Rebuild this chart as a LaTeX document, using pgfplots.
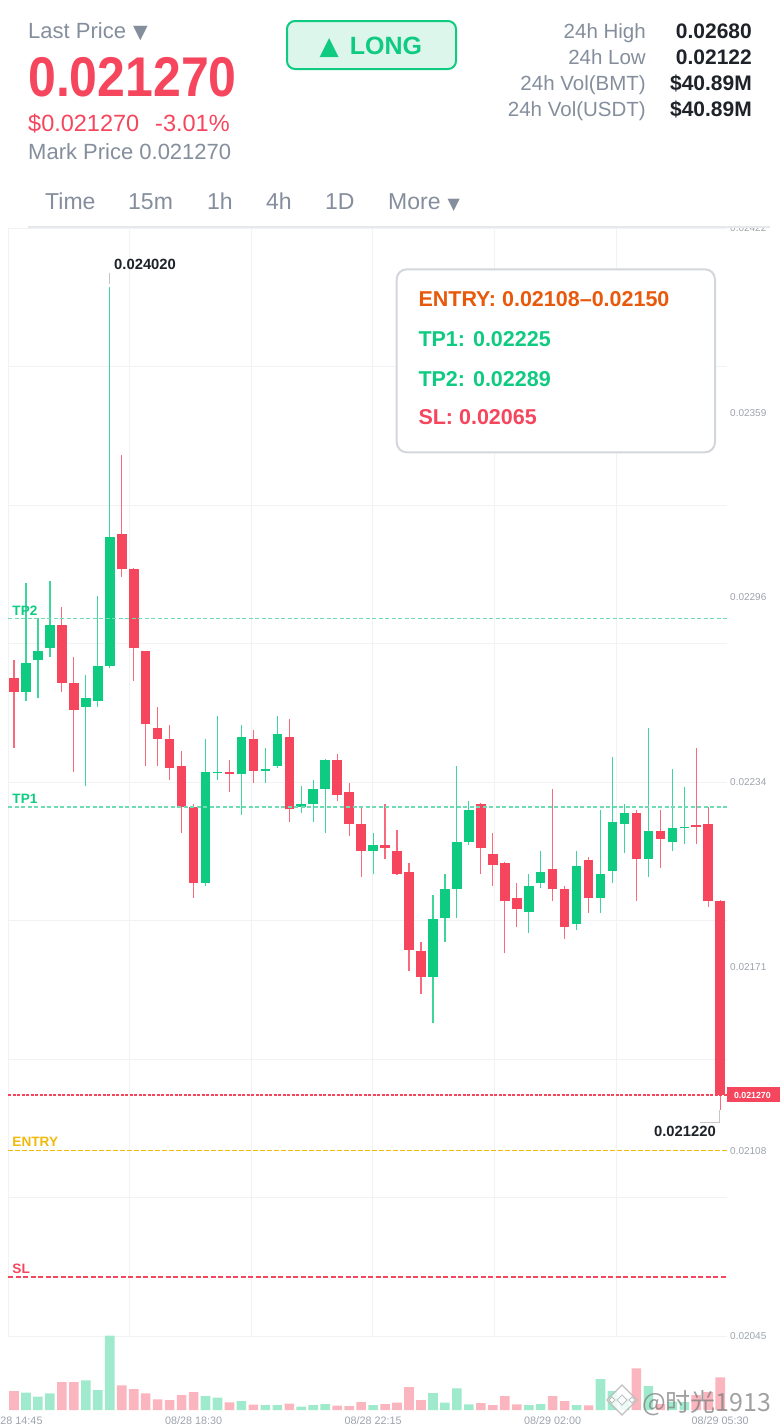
\documentclass[border=0pt]{standalone}
\usepackage{pgfplots}
\pgfplotsset{compat=1.18}
\usepackage{pgfplotstable}
\usepackage{graphicx}
\usepackage{fontspec}
\setmainfont{Liberation Sans}
\newfontfamily\dejavu{DejaVu Sans}
\newfontfamily\cjk{Noto Sans CJK SC}
\newcommand{\fs}[1]{\fontsize{#1}{#1}\selectfont}

\definecolor{bgreen}{HTML}{0ECB81}
\definecolor{bred}{HTML}{F6465D}
\definecolor{slred}{RGB}{246,70,93}
\definecolor{byellow}{HTML}{F0B90B}
\definecolor{borange}{HTML}{E8590C}
\definecolor{tgrey}{HTML}{848E9C}
\definecolor{tdark}{HTML}{1E2329}
\definecolor{gridc}{HTML}{F1F2F4}
\definecolor{axgrey}{HTML}{9DA3AB}
\definecolor{sepc}{HTML}{E6E8EB}
\definecolor{boxc}{HTML}{D3D6DA}
\definecolor{longbg}{HTML}{DDF6EC}
\definecolor{volg}{HTML}{9FEACD}
\definecolor{volr}{HTML}{FBB5BE}
\definecolor{tpline}{HTML}{6EDDB3}

% i open high low close volume
\pgfplotstableread{
i o h l c v
1 0.022640 0.023012 0.022611 0.022739 17.3
2 0.022750 0.022892 0.022622 0.022780 13.3
3 0.022790 0.023020 0.022761 0.022869 16.7
6 0.022591 0.022699 0.022321 0.022620 29.7
7 0.022611 0.022969 0.022591 0.022730 20
8 0.022730 0.024020 0.022722 0.023170 74.3
16 0.021992 0.022480 0.021981 0.022369 14
17 0.022365 0.022560 0.022342 0.022370 12.3
19 0.022361 0.022529 0.022222 0.022489 9
21 0.022372 0.022450 0.022331 0.022379 5
22 0.022390 0.022560 0.022382 0.022499 5
24 0.022251 0.022321 0.022231 0.022260 3.3
25 0.022260 0.022341 0.022200 0.022310 5
26 0.022311 0.022412 0.022163 0.022410 6
30 0.022101 0.022160 0.022022 0.022120 5
35 0.021673 0.021951 0.021514 0.021870 17
36 0.021871 0.022021 0.021792 0.021970 7.3
37 0.021972 0.022390 0.021871 0.022130 21.7
38 0.022132 0.022270 0.022121 0.022240 5.7
43 0.021892 0.022021 0.021822 0.021981 5
44 0.021992 0.022100 0.021973 0.022030 6
47 0.021852 0.022100 0.021831 0.022050 5
49 0.021941 0.022240 0.021890 0.022021 31
50 0.022032 0.022419 0.021990 0.022200 19
51 0.022191 0.022259 0.022092 0.022229 12
53 0.022072 0.022520 0.022013 0.022169 24
55 0.022132 0.022379 0.022101 0.022180 8.3
56 0.022177 0.022319 0.022123 0.022182 8
}\greentab

\pgfplotstableread{
i o h l c v
0 0.022690 0.022750 0.022452 0.022640 19
4 0.022869 0.022931 0.022640 0.022671 28
5 0.022671 0.022761 0.022370 0.022580 28
9 0.023179 0.023448 0.023032 0.023060 24.7
10 0.023060 0.023063 0.022680 0.022790 21
11 0.022780 0.022782 0.022390 0.022531 16.7
12 0.022520 0.022590 0.022390 0.022480 10.7
13 0.022480 0.022529 0.022342 0.022382 10
14 0.022389 0.022440 0.022163 0.022251 15
15 0.022251 0.022259 0.021941 0.021992 18
18 0.022369 0.022410 0.022302 0.022361 7.7
20 0.022480 0.022511 0.022331 0.022372 5.3
23 0.022489 0.022549 0.022200 0.022242 6.3
27 0.022410 0.022429 0.022271 0.022291 4.3
28 0.022300 0.022331 0.022151 0.022191 4
29 0.022191 0.022251 0.022012 0.022101 8
31 0.022120 0.022260 0.022072 0.022111 6
32 0.022100 0.022172 0.022018 0.022021 7.3
33 0.022030 0.022060 0.021693 0.021763 23
34 0.021761 0.021791 0.021613 0.021673 10
39 0.022259 0.022265 0.022021 0.022111 7
40 0.022089 0.022160 0.021982 0.022052 5
41 0.022060 0.022062 0.021752 0.021931 14
42 0.021939 0.021990 0.021843 0.021903 5.7
45 0.022039 0.022311 0.021931 0.021971 14
46 0.021971 0.021982 0.021802 0.021841 9
48 0.022070 0.022081 0.021890 0.021941 4.7
52 0.022229 0.022240 0.021931 0.022072 41.7
54 0.022169 0.022240 0.022041 0.022142 6
57 0.022189 0.022450 0.022123 0.022181 15
58 0.022191 0.022251 0.021911 0.021931 18
59 0.021931 0.021935 0.021220 0.021270 32.7
}\redtab

\begin{document}
\begin{tikzpicture}
\path[use as bounding box] (0pt,0pt) rectangle (780pt,-1428pt);

% ---------------- price pane ----------------
\begin{axis}[
  at={(8pt,-1336pt)}, anchor=south west, scale only axis,
  width=719pt, height=1108pt,
  xmin=-0.5013, xmax=59.566, ymin=0.02045, ymax=0.02422,
  axis line style={draw=none},
  major tick length=0pt,
  xtick={-0.5013,9.632,19.808,29.984,40.159,50.334}, xticklabels={},
  xmajorgrids=true,
  ytick={0.02422,0.023592,0.022963,0.022335,0.021707,0.021078,0.02045},
  yticklabels={0.02422,0.02359,0.02296,0.02234,0.02171,0.02108,0.02045},
  yticklabel pos=right,
  yticklabel style={anchor=west, inner sep=0pt, xshift=3pt, font=\fs{10}, text=axgrey},
  extra y ticks={0.02422,0.023749,0.023277,0.022806,0.022335,0.021864,0.021392,0.020921,0.02045},
  extra y tick labels={},
  extra y tick style={ymajorgrids=true},
  grid style={draw=gridc, line width=1pt},
]
% wicks
\addplot[draw=none, mark=none, error bars/.cd, y dir=plus, y explicit, error mark=none,
  error bar style={draw=bgreen, draw opacity=0.8, line width=1.2pt, solid}]
  table[x=i, y=l, y error plus expr=\thisrow{h}-\thisrow{l}] {\greentab};
\addplot[draw=none, mark=none, error bars/.cd, y dir=plus, y explicit, error mark=none,
  error bar style={draw=bred, draw opacity=0.8, line width=1.2pt, solid}]
  table[x=i, y=l, y error plus expr=\thisrow{h}-\thisrow{l}] {\redtab};
% bodies
\addplot[draw=none, mark=none, error bars/.cd, y dir=plus, y explicit, error mark=none,
  error bar style={draw=bgreen, line width=9.6pt, solid}]
  table[x=i, y expr={min(\thisrow{o},\thisrow{c})}, y error plus expr={abs(\thisrow{c}-\thisrow{o})}] {\greentab};
\addplot[draw=none, mark=none, error bars/.cd, y dir=plus, y explicit, error mark=none,
  error bar style={draw=bred, line width=9.6pt, solid}]
  table[x=i, y expr={min(\thisrow{o},\thisrow{c})}, y error plus expr={abs(\thisrow{c}-\thisrow{o})}] {\redtab};
% level lines
\addplot[color=tpline, mark=none, line width=1.1pt, dash pattern=on 4pt off 2.5pt] coordinates {(-0.5013,0.02289) (59.566,0.02289)};
\addplot[color=tpline, mark=none, line width=1.1pt, dash pattern=on 4pt off 2.5pt] coordinates {(-0.5013,0.02225) (59.566,0.02225)};
\addplot[color=byellow, mark=none, line width=1.1pt, dash pattern=on 4.5pt off 2.5pt] coordinates {(-0.5013,0.02108) (59.566,0.02108)};
\addplot[color=slred, mark=none, line width=1.6pt, dash pattern=on 5pt off 2.5pt] coordinates {(-0.5013,0.02065) (59.566,0.02065)};
\addplot[color=slred, mark=none, line width=1.4pt, dash pattern=on 3pt off 1.5pt] coordinates {(-0.5013,0.02127) (59.566,0.02127)};
% high / low markers
\addplot[color=gray!45, mark=none, line width=1pt] coordinates {(8,0.024067) (8,0.024029)};
\addplot[color=gray!45, mark=none, line width=1pt] coordinates {(58.92,0.021219) (58.92,0.021176) (57.31,0.021176)};
\end{axis}

% ---------------- volume pane ----------------
\begin{axis}[
  at={(8pt,-1410pt)}, anchor=south west, scale only axis,
  width=719pt, height=74.3pt,
  xmin=-0.5013, xmax=59.566, ymin=0, ymax=74.3,
  axis line style={draw=none}, major tick length=0pt,
  ytick=\empty,
  xtick={0,15,30,45,59},
  xticklabels={08/28 14:45,08/28 18:30,08/28 22:15,08/29 02:00,08/29 05:30},
  xticklabel style={anchor=center, inner sep=0pt, yshift=-11pt, font=\fs{10.8}, text=axgrey},
]
\addplot[ybar, bar width=9.6pt, bar shift=0pt, fill=volg, draw=none] table[x=i, y=v] {\greentab};
\addplot[ybar, bar width=9.6pt, bar shift=0pt, fill=volr, draw=none] table[x=i, y=v] {\redtab};
\end{axis}

% ---------------- overlays ----------------
\begin{scope}[x=1pt,y=-1pt]
\fill[white] (0,0) rectangle (780,226);
\draw[sepc, line width=2pt] (28,227) -- (770,227);

% header left
\node[anchor=base west, inner sep=0pt, text=tgrey] at (28,38.5) {\fs{22}Last Price\hspace{7pt}{\dejavu\fs{19}▼}};
\node[anchor=base west, inner sep=0pt, text=bred] at (28,96.7) {\scalebox{1}[1.12]{\fs{50}\bfseries 0.021270}};
\node[anchor=base west, inner sep=0pt, text=bred] at (28,131.7) {\fs{23.5}\$0.021270\hspace{16pt}-3.01\%};
\node[anchor=base west, inner sep=0pt, text=tgrey] at (28,159.3) {\fs{22}Mark Price 0.021270};

% LONG button
\draw[rounded corners=8pt, fill=longbg, draw=bgreen, line width=2pt] (287,21) rectangle (456,69);
\node[anchor=base west, inner sep=0pt, text=bgreen] at (319.5,54) {{\dejavu\fs{25}▲}\hspace{11pt}{\fs{25}\bfseries LONG}};

% header right
\node[anchor=base east, inner sep=0pt, text=tgrey] at (646,38.5) {\fs{20.5}24h High};
\node[anchor=base east, inner sep=0pt, text=tgrey] at (646,64) {\fs{20.5}24h Low};
\node[anchor=base east, inner sep=0pt, text=tgrey] at (646,90.5) {\fs{20.5}24h Vol(BMT)};
\node[anchor=base east, inner sep=0pt, text=tgrey] at (646,116.5) {\fs{20.5}24h Vol(USDT)};
\node[anchor=base east, inner sep=0pt, text=tdark] at (752,38.5) {\fs{21}\bfseries 0.02680};
\node[anchor=base east, inner sep=0pt, text=tdark] at (752,64) {\fs{21}\bfseries 0.02122};
\node[anchor=base east, inner sep=0pt, text=tdark] at (752,90.5) {\fs{21}\bfseries \$40.89M};
\node[anchor=base east, inner sep=0pt, text=tdark] at (752,116.5) {\fs{21}\bfseries \$40.89M};

% tabs
\node[anchor=base west, inner sep=0pt, text=tgrey] at (45,209.5) {\fs{23}Time};
\node[anchor=base west, inner sep=0pt, text=tgrey] at (128,209.5) {\fs{23}15m};
\node[anchor=base west, inner sep=0pt, text=tgrey] at (207,209.5) {\fs{23}1h};
\node[anchor=base west, inner sep=0pt, text=tgrey] at (266,209.5) {\fs{23}4h};
\node[anchor=base west, inner sep=0pt, text=tgrey] at (325,209.5) {\fs{23}1D};
\node[anchor=base west, inner sep=0pt, text=tgrey] at (388,209.5) {\fs{23}More\hspace{7pt}{\dejavu\fs{16}▼}};

% info box
\draw[rounded corners=10pt, draw=boxc, line width=2pt, fill=white] (396.7,269.3) rectangle (715,452.3);
\node[anchor=base west, inner sep=0pt, text=borange] at (418.3,306) {\fs{21.5}\bfseries ENTRY: 0.02108–0.02150};
\node[anchor=base west, inner sep=0pt, text=bgreen] at (418.3,346) {\fs{21.5}\bfseries TP1: 0.02225};
\node[anchor=base west, inner sep=0pt, text=bgreen] at (418.3,386) {\fs{21.5}\bfseries TP2: 0.02289};
\node[anchor=base west, inner sep=0pt, text=bred] at (418.3,424) {\fs{21.5}\bfseries SL: 0.02065};

% level labels
\node[anchor=base west, inner sep=0pt, text=bgreen] at (12.3,615) {\fs{13.6}\bfseries TP2};
\node[anchor=base west, inner sep=0pt, text=bgreen] at (12.3,803.3) {\fs{13.6}\bfseries TP1};
\node[anchor=base west, inner sep=0pt, text=byellow] at (12.3,1146.5) {\fs{13.6}\bfseries ENTRY};
\node[anchor=base west, inner sep=0pt, text=bred] at (12.3,1273.3) {\fs{13.6}\bfseries SL};

% high / low labels
\node[anchor=base west, inner sep=0pt, text=tdark] at (114,269.3) {\fs{14.8}\bfseries 0.024020};
\node[anchor=base east, inner sep=0pt, text=tdark] at (716,1136) {\fs{14.8}\bfseries 0.021220};

% last price tag
\fill[bred] (726.7,1087.3) rectangle (780,1102);
\node[anchor=base, inner sep=0pt, text=white] at (752.4,1098.5) {\fs{8.8}\bfseries 0.021270};

% watermark
\begin{scope}[shift={(622,1400)}, opacity=0.8]
  \draw[gray!60, line width=1.2pt, fill=white] (0,-15) -- (15,0) -- (0,15) -- (-15,0) -- cycle;
  \draw[gray!60, line width=1pt, fill=white] (0,-5) -- (5,0) -- (0,5) -- (-5,0) -- cycle;
  \draw[gray!60, line width=1pt, fill=white] (-10,-3) -- (-7,0) -- (-10,3) -- (-13,0) -- cycle;
  \draw[gray!60, line width=1pt, fill=white] (10,-3) -- (13,0) -- (10,3) -- (7,0) -- cycle;
\end{scope}
\node[anchor=base west, inner sep=0pt, text=gray, opacity=0.75] at (642,1411) {\cjk\fs{25}@时光1913};
\end{scope}
\end{tikzpicture}
\end{document}
